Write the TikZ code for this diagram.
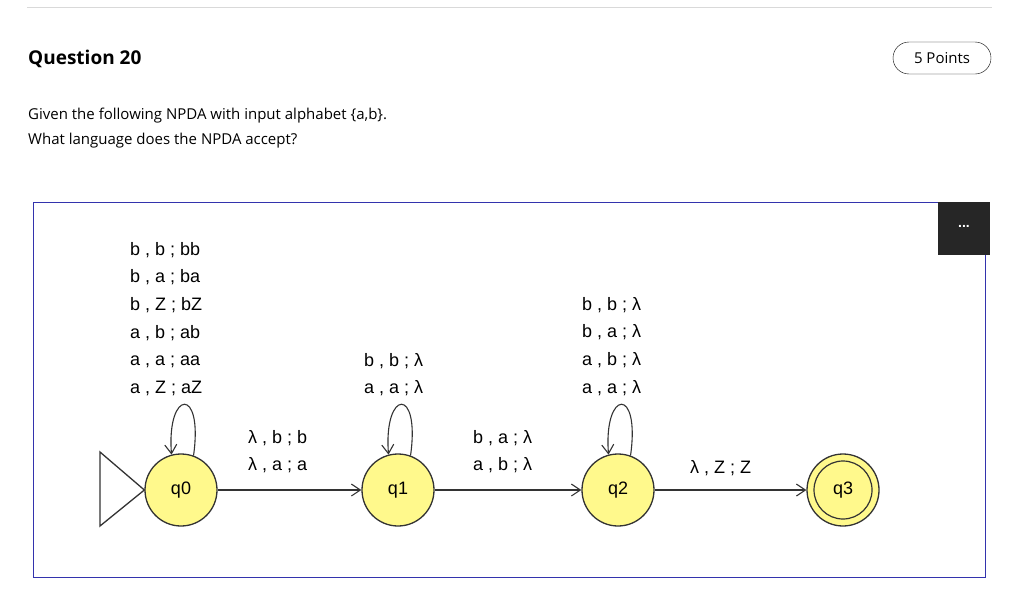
\documentclass[tikz,border=0pt]{standalone}
\usepackage{fontspec}
\setmainfont{Open Sans}
\newfontfamily\arial{Liberation Sans}
\usetikzlibrary{arrows.meta}
\begin{document}
\begin{tikzpicture}[x=1pt,y=-1pt,
  state/.style={circle,draw=black!80,line width=1.3pt,fill=yellow!45,minimum size=72pt,inner sep=0pt,font=\arial\fontsize{18}{18}\selectfont},
  lab/.style={font=\arial\fontsize{18}{27.6}\selectfont,align=left,inner sep=0pt},
  edge/.style={line width=1.1pt,draw=black!80,-{Straight Barb[length=9pt,width=12pt]}},
  body/.style={font=\fontsize{15}{15}\selectfont,anchor=west,inner sep=0pt}]
\useasboundingbox (0,0) rectangle (1024,605);
\fill[white] (0,0) rectangle (1024,605);
\draw[black!15,line width=1pt] (27,7) -- (992,7);
\node[anchor=west,inner sep=0pt,font=\fontsize{19}{19}\selectfont\bfseries] (title) at (28,59) {Question 20};
\node[draw,rounded corners=16pt,minimum width=98pt,minimum height=32pt,font=\fontsize{15}{15}\selectfont] (pts) at (942,58) {5 Points};
\node[body] (t1) at (28,116) {Given the following NPDA with input alphabet \{a,b\}.};
\node[body] (t2) at (28,141) {What language does the NPDA accept?};
\draw[blue!60!black!80,line width=1pt] (33,202) rectangle (985,577);
\fill[black!85] (938,202) rectangle (990,255);
\node[white,font=\arial\bfseries\fontsize{14}{14}\selectfont] (dots) at (964,226) {...};

\node[state] (q0) at (181,490) {q0};
\node[state] (q1) at (398,490) {q1};
\node[state] (q2) at (618,490) {q2};
\node[state] (q3) at (843,490) {q3};
\draw[line width=1.2pt,black!80] (843,490) circle (29pt);
\coordinate (ia) at (100,452);
\coordinate (ib) at (100,526);
\draw[line width=1.3pt,black!80] (ia) -- (q0.west) -- (ib) -- cycle;

\foreach \q in {q0,q1,q2}{
  \draw[edge] (\q.70) .. controls ++(10,-70) and ++(-5,-65) .. (\q.105);
}
\draw[edge] (q0) -- (q1);
\draw[edge] (q1) -- (q2);
\draw[edge] (q2) -- (q3);

\node[lab,anchor=north west] (l0) at (130,242) {b , b ; bb\\b , a ; ba\\b , Z ; bZ\\a , b ; ab\\a , a ; aa\\a , Z ; aZ};
\node[lab,anchor=north west] (l1) at (364,353) {b , b ; λ\\a , a ; λ};
\node[lab,anchor=north west] (l2) at (582,297) {b , b ; λ\\b , a ; λ\\a , b ; λ\\a , a ; λ};
\node[lab,anchor=north west] (e01) at (248,430) {λ , b ; b\\λ , a ; a};
\node[lab,anchor=north west] (e12) at (473,430) {b , a ; λ\\a , b ; λ};
\node[lab,anchor=north west] (e23) at (690,460) {λ , Z ; Z};
\end{tikzpicture}
\end{document}
